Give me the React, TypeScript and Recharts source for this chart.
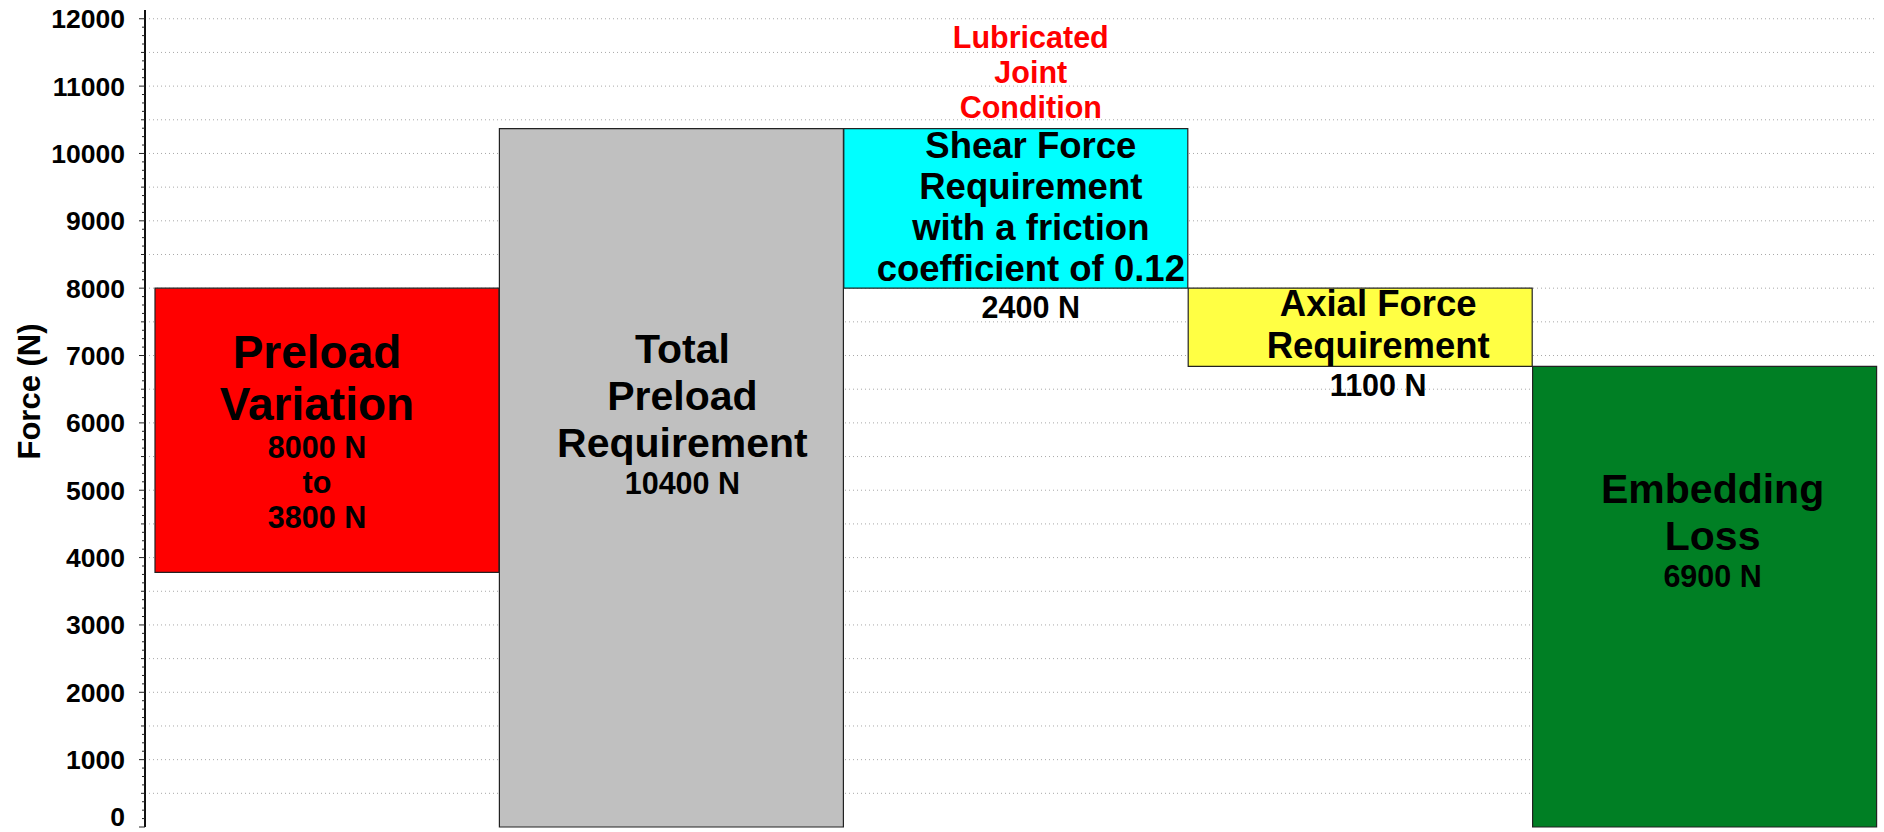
import React from 'react';
import { BarChart, Bar, Cell, XAxis, YAxis, CartesianGrid, LabelList, Label } from 'recharts';

// force budget of the bolted joint, in N
const categories = [
  'Preload Variation',
  'Total Preload Requirement',
  'Shear Force Requirement',
  'Axial Force Requirement',
  'Embedding Loss',
];
const lowValues = [3780, 0, 8000, 6840, 0];
const highValues = [8000, 10370, 10370, 8000, 6840];
const barColors = ['#FF0000', '#C0C0C0', '#00FFFF', '#FFFF44', '#007F24'];

const titleLines = [
  ['Preload', 'Variation'],
  ['Total', 'Preload', 'Requirement'],
  ['Shear Force', 'Requirement', 'with a friction', 'coefficient of 0.12'],
  ['Axial Force', 'Requirement'],
  ['Embedding', 'Loss'],
];
const valueLines = [['8000 N', 'to', '3800 N'], ['10400 N'], ['2400 N'], ['1100 N'], ['6900 N']];
const noteLines = ['Lubricated', 'Joint', 'Condition'];

const yMinorTicks = Array.from({ length: 97 }, (_, i) => i * 125);
const gridValues = Array.from({ length: 24 }, (_, i) => (i + 1) * 500);

const Y_MAX = 12130;
const FONT = '"Liberation Sans", Arial, Helvetica, sans-serif';
const TICK_SIZE = 6;
const TICK_MARGIN = 14;

// text placement inside each block (offsets from the bar top / centre)
const textLayout = [
  { dx: -10, size: 46, first: 80, step: 52, vFirst: 170, vStep: 35 },
  { dx: 11, size: 41, first: 234, step: 47, vFirst: 365, vStep: 35 },
  { dx: 15, size: 36.5, first: 29, step: 41.3, vFirst: 189, vStep: 35 },
  { dx: 18, size: 36.5, first: 28, step: 42, vFirst: 108, vStep: 35 },
  { dx: 8, size: 41, first: 137, step: 47, vFirst: 221, vStep: 35 },
];

const data = categories.map((name, i) => ({ name, range: [lowValues[i], highValues[i]] }));

const YTick = (props: any) => {
  const { x, y, payload } = props;
  const v = payload.value as number;
  const axisX = x + TICK_SIZE + TICK_MARGIN;
  const major = v % 1000 === 0;
  const len = major ? 6 : v % 500 === 0 ? 4 : 3;
  return (
    <g>
      <line x1={axisX - len} x2={axisX} y1={y} y2={y} stroke="#222" strokeWidth={1} />
      {major && (
        <text
          x={x}
          y={y}
          dy={v === 0 ? -1 : 9.5}
          textAnchor="end"
          fontFamily={FONT}
          fontWeight="bold"
          fontSize={26.5}
          fill="#000"
        >
          {v}
        </text>
      )}
    </g>
  );
};

const BlockText = (props: any) => {
  const { x, y, width, height, index } = props;
  const lay = textLayout[index];
  const top = Math.min(y, y + height);
  const cx = x + width / 2 + lay.dx;
  return (
    <g fontFamily={FONT} fontWeight="bold" textAnchor="middle">
      {index === 2 &&
        noteLines.map((t, k) => (
          <text key={'n' + k} x={cx} y={top - 81 + k * 35} fontSize={30.5} fill="#FF0000">
            {t}
          </text>
        ))}
      {titleLines[index].map((t, k) => (
        <text key={'t' + k} x={cx} y={top + lay.first + k * lay.step} fontSize={lay.size} fill="#000">
          {t}
        </text>
      ))}
      {valueLines[index].map((t, k) => (
        <text key={'v' + k} x={cx} y={top + lay.vFirst + k * lay.vStep} fontSize={30.5} fill="#000">
          {t}
        </text>
      ))}
    </g>
  );
};

const AxisTitle = (props: any) => {
  const vb = props.viewBox;
  const cy = vb.y + vb.height / 2 - 27;
  return (
    <text
      transform={`translate(${vb.x + 40},${cy}) rotate(-90)`}
      textAnchor="middle"
      fontFamily={FONT}
      fontWeight="bold"
      fontSize={31}
      fill="#000"
    >
      Force (N)
    </text>
  );
};

export default function App() {
  return (
    <div style={{ position: 'absolute', left: 0, top: 0, background: '#fff' }}>
      <BarChart
        width={1884}
        height={832}
        data={data}
        margin={{ top: 10, right: 7, left: 0, bottom: 5 }}
        barCategoryGap={0}
        barGap={0}
      >
        <CartesianGrid vertical={false} horizontalValues={gridValues} stroke="#a8a8a8" strokeDasharray="1 3" />
        <XAxis
          dataKey="name"
          height={0}
          tick={false}
          tickLine={false}
          padding={{ left: 10, right: 0 }}
          axisLine={{ stroke: '#111', strokeWidth: 1.5 }}
        />
        <XAxis
          xAxisId="top"
          orientation="top"
          dataKey="name"
          height={0}
          tick={false}
          tickLine={false}
          axisLine={{ stroke: '#555', strokeWidth: 1.5 }}
        />
        <YAxis
          width={145}
          domain={[0, Y_MAX]}
          ticks={yMinorTicks}
          interval={0}
          tickSize={TICK_SIZE}
          tickMargin={TICK_MARGIN}
          tickLine={false}
          tick={<YTick />}
          axisLine={{ stroke: '#111', strokeWidth: 2 }}
        >
          <Label content={<AxisTitle />} />
        </YAxis>
        <YAxis
          yAxisId="right"
          orientation="right"
          width={0}
          domain={[0, Y_MAX]}
          tick={false}
          tickLine={false}
          axisLine={{ stroke: '#444', strokeWidth: 1.5 }}
        />
        <Bar dataKey="range" stroke="#222" strokeWidth={1.2} isAnimationActive={false}>
          {data.map((d, i) => (
            <Cell key={d.name} fill={barColors[i]} />
          ))}
          <LabelList dataKey="range" content={<BlockText />} />
        </Bar>
      </BarChart>
    </div>
  );
}
